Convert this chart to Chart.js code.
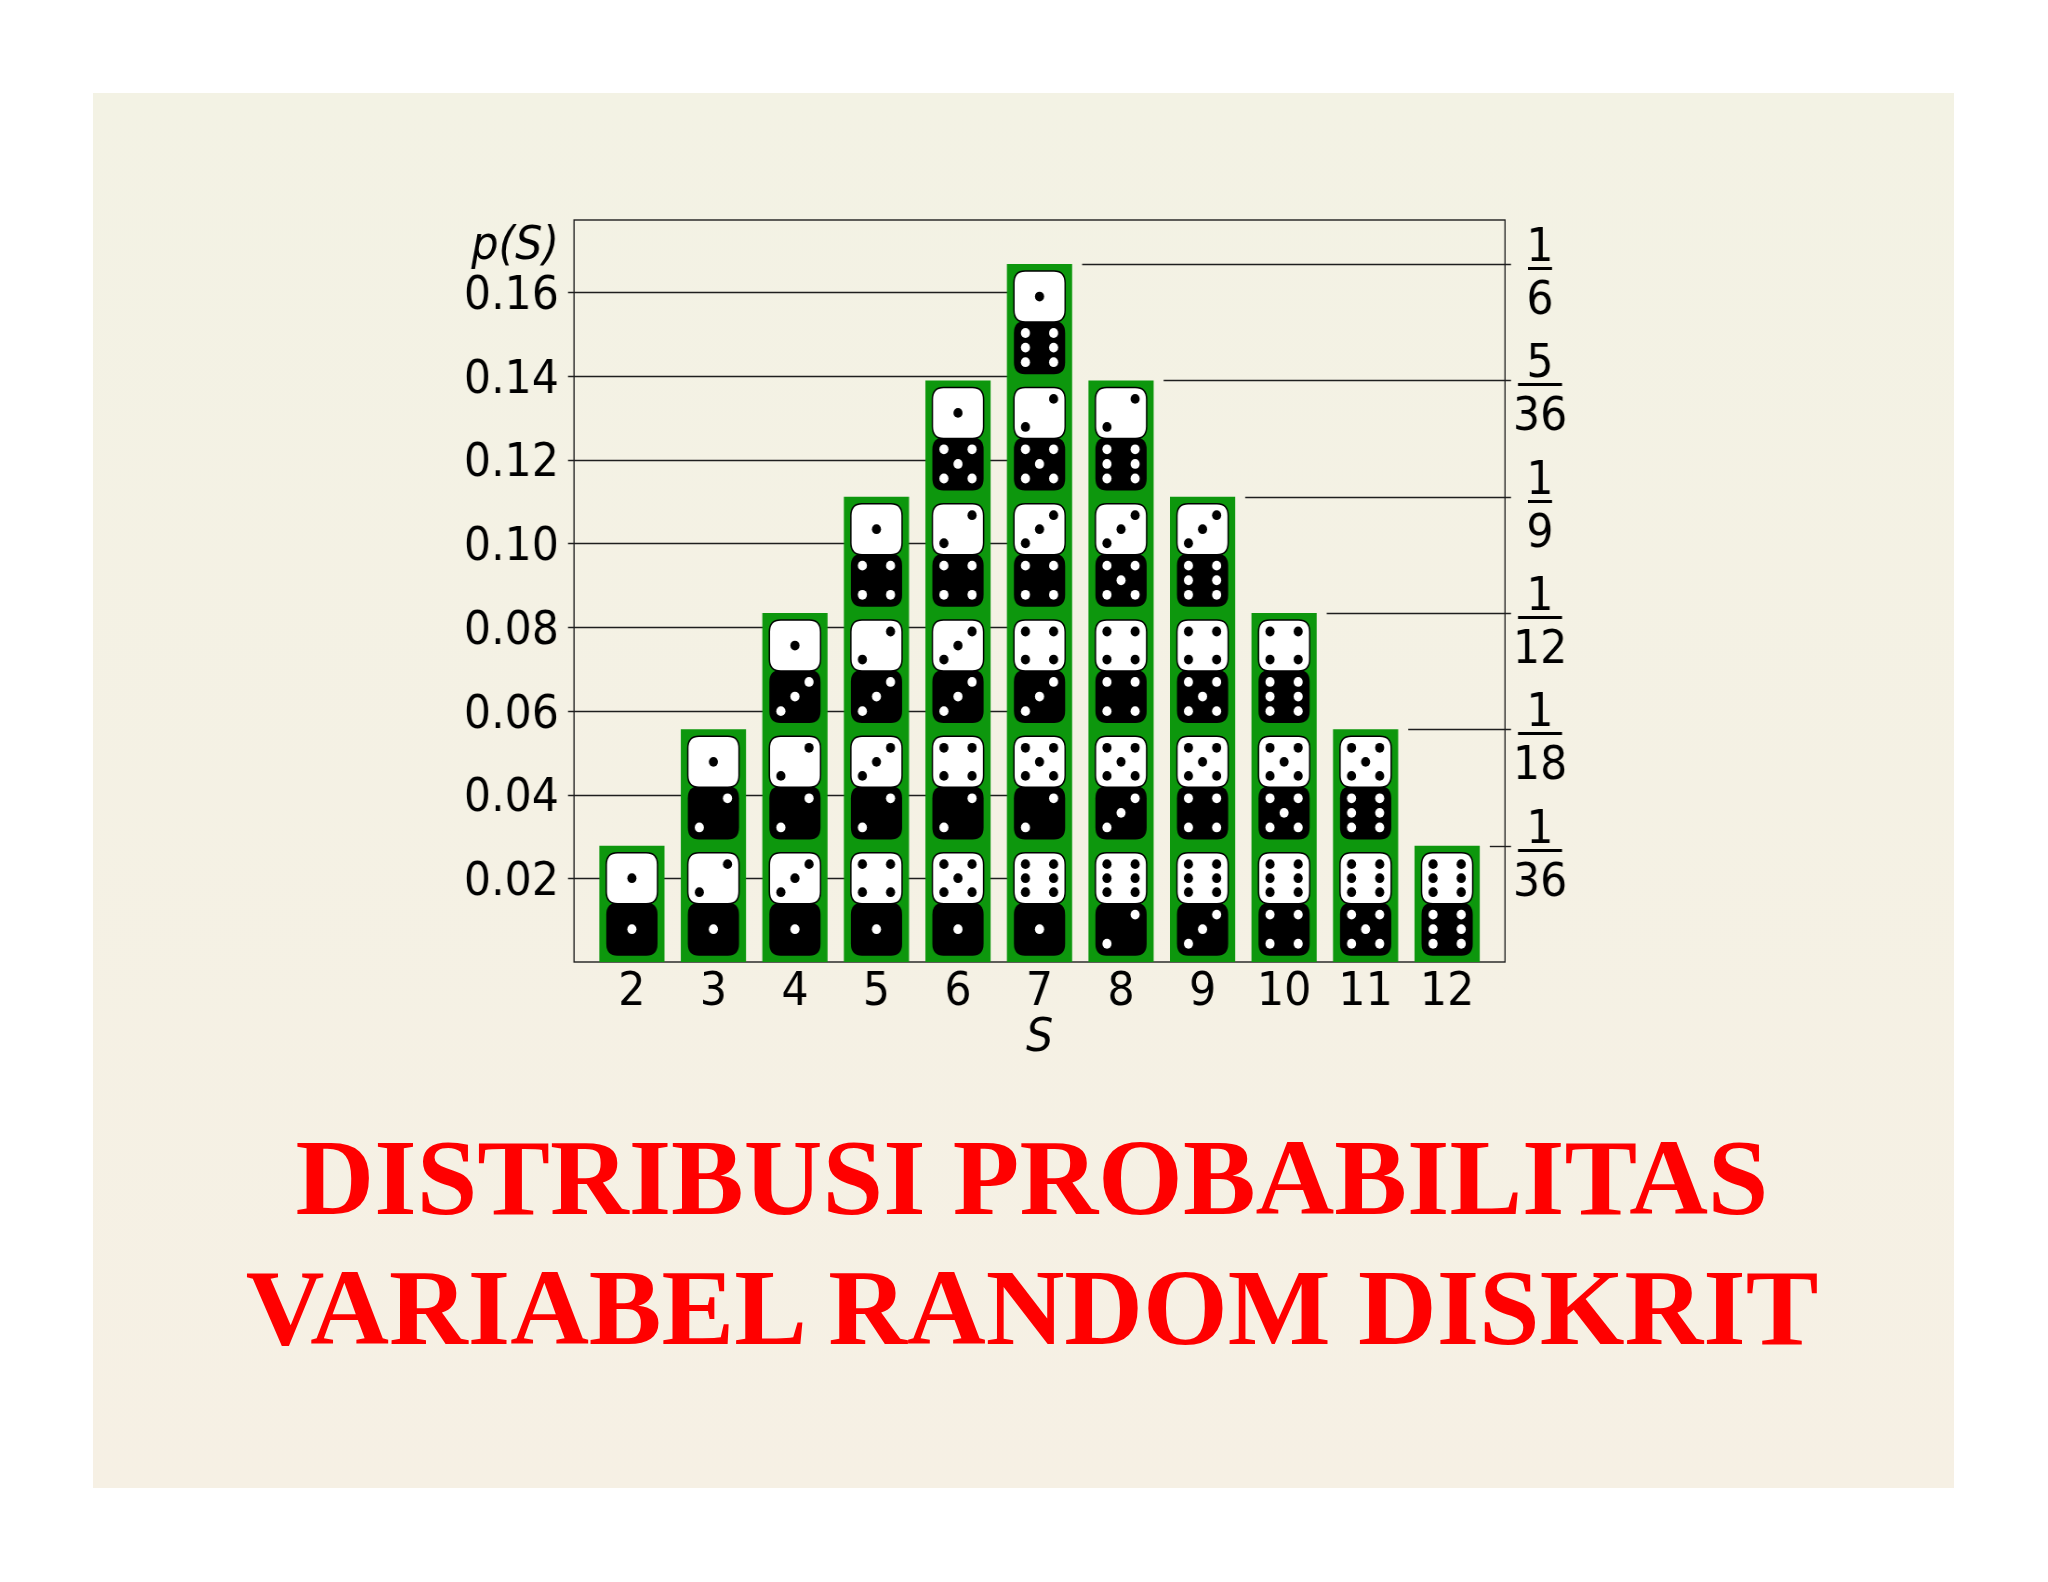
<!DOCTYPE html>
<html lang="id">
<head>
<meta charset="UTF-8">
<title>Distribusi Probabilitas Variabel Random Diskrit</title>
<script src="https://cdn.jsdelivr.net/npm/chart.js@4"></script>
<style>
  html, body { margin: 0; padding: 0; background: #ffffff; }
  body { width: 2048px; height: 1582px; position: relative; overflow: hidden; }
  #panel { position: absolute; left: 93px; top: 93px; width: 1861px; height: 1395px;
           background: linear-gradient(#f3f2e4, #f6f0e4); }
  #chartBox { position: absolute; left: 0; top: 0; transform-origin: 0 0; }
  #title { position: absolute; left: 0; width: 2064px; top: 1113px; text-align: center;
           font: bold 109px "Liberation Serif", "Times New Roman", serif; line-height: 130px;
           color: #ff0000; white-space: nowrap; }
</style>
</head>
<body>
<div id="panel"></div>
<div id="chartBox"><canvas id="diceChart"></canvas></div>
<div id="title">DISTRIBUSI PROBABILITAS<br>VARIABEL RANDOM DISKRIT</div>

<script>
// data
const sums = [2, 3, 4, 5, 6, 7, 8, 9, 10, 11, 12];
const probs = [1/36, 2/36, 3/36, 4/36, 5/36, 6/36, 5/36, 4/36, 3/36, 2/36, 1/36];
const yTicks = [0.02, 0.04, 0.06, 0.08, 0.10, 0.12, 0.14, 0.16];

// dice in each column, bottom pair first: [black die, white die]
const dicePairs = [
  [[1,1]],
  [[1,2],[2,1]],
  [[1,3],[2,2],[3,1]],
  [[1,4],[2,3],[3,2],[4,1]],
  [[1,5],[2,4],[3,3],[4,2],[5,1]],
  [[1,6],[2,5],[3,4],[4,3],[5,2],[6,1]],
  [[2,6],[3,5],[4,4],[5,3],[6,2]],
  [[3,6],[4,5],[5,4],[6,3]],
  [[4,6],[5,5],[6,4]],
  [[5,6],[6,5]],
  [[6,6]]
];

// right hand fraction labels
const rightValues = [1/6, 5/36, 1/9, 1/12, 1/18, 1/36];
const rightNum = ['1', '5', '1', '1', '1', '1'];
const rightDen = ['6', '36', '9', '12', '18', '36'];
const rightFromSum = [7, 8, 9, 10, 11, 12];
const gridEndSum = 7;

// the chart in the picture is a little narrower than its fonts
const SX = 0.93;
const PAGE_W = 2048, PAGE_H = 1582;
const CANVAS_W = Math.round(PAGE_W / SX);
const FONT = "'DejaVu Sans', 'Liberation Sans', sans-serif";
const FONT_SIZE = 46;
const LINE = '#1e1e1e';

const box = document.getElementById('chartBox');
box.style.transform = 'scaleX(' + SX + ')';
const canvas = document.getElementById('diceChart');
canvas.width = CANVAS_W;
canvas.height = PAGE_H;
canvas.style.width = CANVAS_W + 'px';
canvas.style.height = PAGE_H + 'px';

const pipSpots = {
  1: [[0,0]],
  2: [[1,-1],[-1,1]],
  3: [[1,-1],[0,0],[-1,1]],
  4: [[-1,-1],[1,-1],[-1,1],[1,1]],
  5: [[-1,-1],[1,-1],[0,0],[-1,1],[1,1]],
  6: [[-1,-1],[1,-1],[-1,0],[1,0],[-1,1],[1,1]]
};

function roundRect(ctx, x, y, w, h, r) {
  ctx.beginPath();
  ctx.moveTo(x + r, y);
  ctx.lineTo(x + w - r, y);
  ctx.quadraticCurveTo(x + w, y, x + w, y + r);
  ctx.lineTo(x + w, y + h - r);
  ctx.quadraticCurveTo(x + w, y + h, x + w - r, y + h);
  ctx.lineTo(x + r, y + h);
  ctx.quadraticCurveTo(x, y + h, x, y + h - r);
  ctx.lineTo(x, y + r);
  ctx.quadraticCurveTo(x, y, x + r, y);
  ctx.closePath();
}

function drawDie(ctx, cx, top, w, h, face, dark) {
  roundRect(ctx, cx - w / 2, top, w, h, 12);
  ctx.fillStyle = dark ? '#000000' : '#ffffff';
  ctx.fill();
  if (!dark) {
    ctx.lineWidth = 1.5;
    ctx.strokeStyle = '#000000';
    ctx.stroke();
  }
  const dx = w * 0.275, dy = h * 0.275, cy = top + h / 2;
  ctx.fillStyle = dark ? '#ffffff' : '#000000';
  pipSpots[face].forEach(([sx, sy]) => {
    ctx.beginPath();
    ctx.arc(cx + sx * dx, cy + sy * dy, 4.9, 0, Math.PI * 2);
    ctx.fill();
  });
}

const dicePlugin = {
  id: 'dice',
  beforeDatasetsDraw(chart) {
    const { ctx, chartArea: a, scales: { x, y } } = chart;
    ctx.save();
    ctx.strokeStyle = LINE;
    ctx.lineWidth = 1.4;
    // frame
    ctx.strokeRect(a.left, a.top, a.right - a.left, a.bottom - a.top);
    // left grid lines, stopping behind the tallest bar
    const xEnd = x.getPixelForValue(gridEndSum);
    yTicks.forEach(v => {
      const py = Math.round(y.getPixelForValue(v)) + 0.5;
      ctx.beginPath();
      ctx.moveTo(a.left - 6 / SX, py);
      ctx.lineTo(xEnd, py);
      ctx.stroke();
    });
    ctx.restore();
  },
  afterDatasetsDraw(chart) {
    const { ctx, chartArea: a, scales: { x, y } } = chart;
    const meta = chart.getDatasetMeta(0);
    const pairH = y.getPixelForValue(0) - y.getPixelForValue(1 / 36);
    ctx.save();
    meta.data.forEach((bar, i) => {
      const p = bar.getProps(['x', 'base', 'width'], true);
      const dieW = p.width * 0.785;
      const whiteH = pairH * 0.4385, blackH = pairH * 0.456;
      dicePairs[i].forEach(([black, white], k) => {
        const pairTop = p.base - (k + 1) * pairH;
        const wTop = pairTop + pairH * 0.06;
        drawDie(ctx, p.x, wTop + whiteH - 1, dieW, blackH, black, true);
        drawDie(ctx, p.x, wTop, dieW, whiteH, white, false);
      });
    });

    // right lines and fractions
    ctx.strokeStyle = LINE;
    ctx.lineWidth = 1.4;
    const halfBar = meta.data[0].getProps(['width'], true).width / 2;
    const fx = a.right + 35 / SX;
    rightValues.forEach((v, i) => {
      const py = Math.round(y.getPixelForValue(v)) + 0.5;
      ctx.beginPath();
      ctx.moveTo(x.getPixelForValue(rightFromSum[i]) + halfBar + 10 / SX, py);
      ctx.lineTo(a.right + 6 / SX, py);
      ctx.stroke();

      const barY = py + 4;
      const bw = (rightDen[i].length > 1 ? 44 : 24) / SX;
      ctx.fillStyle = '#000000';
      ctx.fillRect(fx - bw / 2, barY - 1.5, bw, 3);
      ctx.font = FONT_SIZE + 'px ' + FONT;
      ctx.textAlign = 'center';
      ctx.textBaseline = 'alphabetic';
      ctx.fillText(rightNum[i], fx, barY - 8);
      ctx.fillText(rightDen[i], fx, barY + 45);
    });

    // axis titles
    ctx.font = 'italic ' + FONT_SIZE + 'px ' + FONT;
    ctx.fillStyle = '#000000';
    ctx.textAlign = 'right';
    ctx.fillText('p(S)', a.left - 15 / SX, 259);
    ctx.textAlign = 'center';
    ctx.fillText('S', x.getPixelForValue(7), 1051);
    ctx.restore();
  }
};

new Chart(canvas.getContext('2d'), {
  type: 'bar',
  data: {
    datasets: [{
      data: sums.map((s, i) => ({ x: s, y: probs[i] })),
      backgroundColor: '#0d970d',
      borderWidth: 0,
      barPercentage: 0.8,
      categoryPercentage: 1
    }]
  },
  options: {
    responsive: false,
    animation: false,
    devicePixelRatio: 1,
    layout: { padding: { left: 0, top: 220, right: CANVAS_W - 1505 / SX, bottom: 0 } },
    plugins: { legend: { display: false }, tooltip: { enabled: false } },
    scales: {
      x: {
        type: 'linear',
        min: 1.29,
        max: 12.71,
        offset: false,
        grid: { display: false, drawTicks: false },
        border: { display: false },
        afterBuildTicks: s => { s.ticks = sums.map(v => ({ value: v })); },
        afterFit: s => { s.height = PAGE_H - 962; },
        ticks: {
          autoSkip: false,
          maxRotation: 0,
          padding: 3,
          color: '#000000',
          font: { family: FONT, size: FONT_SIZE },
          callback: v => String(v)
        }
      },
      y: {
        min: 0,
        max: 0.1772,
        grid: { display: false, drawTicks: false },
        border: { display: false },
        afterBuildTicks: s => { s.ticks = yTicks.map(v => ({ value: v })); },
        afterFit: s => { s.width = 574 / SX; },
        ticks: {
          padding: 15 / SX,
          labelOffset: 5,
          color: '#000000',
          font: { family: FONT, size: FONT_SIZE },
          callback: v => v.toFixed(2)
        }
      }
    }
  },
  plugins: [dicePlugin]
});
</script>
</body>
</html>
